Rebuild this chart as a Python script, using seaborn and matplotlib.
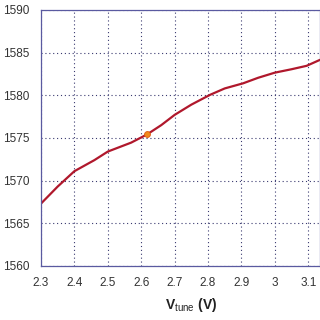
import seaborn as sns
import matplotlib.pyplot as plt
import pandas as pd

# tuning curve
v_tune = [2.30, 2.35, 2.40, 2.46, 2.50, 2.57, 2.617, 2.66, 2.70, 2.75, 2.806, 2.85, 2.905, 2.95, 3.00, 3.05, 3.095, 3.135]
wavelength = [1567.3, 1569.3, 1571.1, 1572.4, 1573.4, 1574.45, 1575.4, 1576.5, 1577.7, 1578.9, 1580.05, 1580.8, 1581.4, 1582.05, 1582.65, 1583.05, 1583.45, 1584.15]
marker_v = [2.617]
marker_wl = [1575.5]

x_ticks = [2.3, 2.4, 2.5, 2.6, 2.7, 2.8, 2.9, 3.0, 3.1]
x_labels = ['2.3', '2.4', '2.5', '2.6', '2.7', '2.8', '2.9', '3', '3.1']
y_ticks = [1560, 1565, 1570, 1575, 1580, 1585, 1590]

df = pd.DataFrame({'v': v_tune, 'wl': wavelength})

sns.set_theme(style='white')
plt.rcParams['font.family'] = ['Liberation Sans', 'DejaVu Sans']
plt.rcParams['mathtext.fontset'] = 'custom'
plt.rcParams['mathtext.rm'] = 'Liberation Sans'
plt.rcParams['mathtext.bf'] = 'Liberation Sans:bold'

fig = plt.figure(figsize=(3.2, 3.2), dpi=100)
ax = fig.add_axes([0.128, 0.169, 0.872, 0.800])

sns.lineplot(data=df, x='v', y='wl', color='#b0182c', linewidth=1.6, ax=ax)
sns.scatterplot(x=marker_v, y=marker_wl, color='#f08a1c', s=18, edgecolor='#e05a10',
                linewidth=0.6, zorder=5, ax=ax)

ax.set_xlim(2.3, 3.135)
ax.set_ylim(1560, 1590)
ax.set_xticks(x_ticks)
ax.set_xticklabels(x_labels)
ax.set_yticks(y_ticks)
ax.grid(True, linestyle=(0, (1, 2.5)), color='#3a3a70', linewidth=0.8)
ax.set_axisbelow(True)
for side in ['left', 'bottom', 'top', 'right']:
    ax.spines[side].set_color('#5a5aa0')
    ax.spines[side].set_linewidth(0.9)
ax.tick_params(labelsize=8.5, colors='#333333', length=0, pad=8)

ax.set_ylabel('')
ax.set_xlabel('')
fig.text(0.597, 0.047, r'$\mathbf{V}_{\mathrm{tune}}$ (V)', fontsize=10, fontweight='bold',
         color='#222222', ha='center', va='center')

plt.savefig('out.png', dpi=100)
plt.close()
